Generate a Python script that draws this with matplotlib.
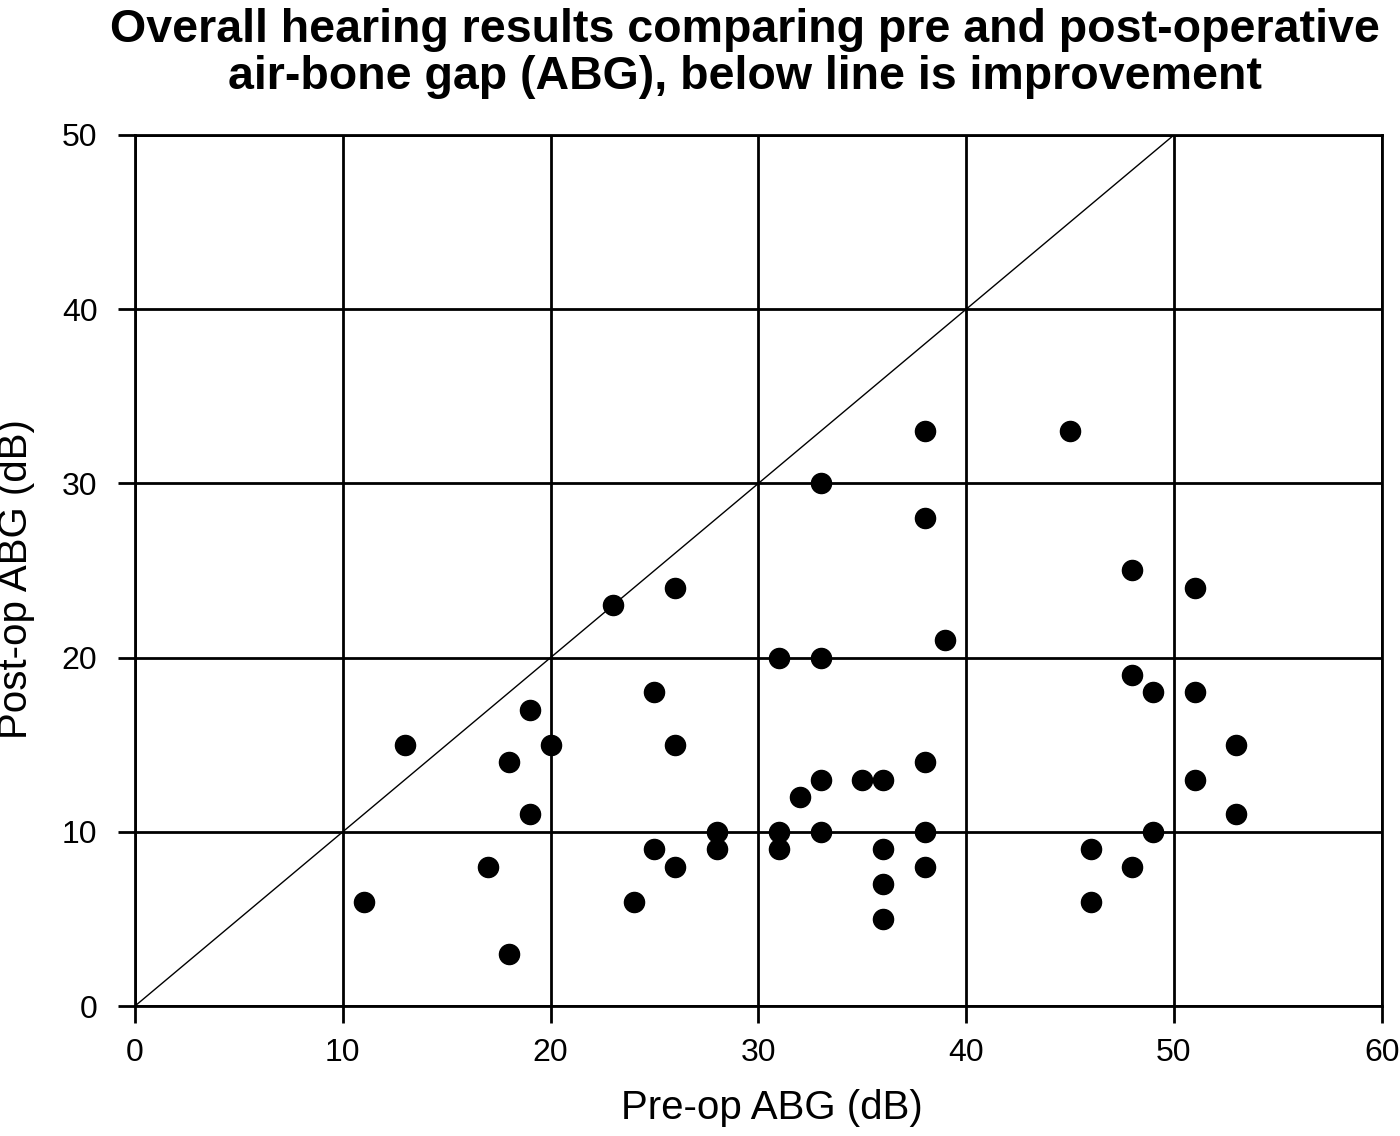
import matplotlib
matplotlib.use("Agg")
import matplotlib.pyplot as plt

plt.rcParams['font.family'] = ['Liberation Sans', 'DejaVu Sans']

# pre-op and post-op air-bone gap, dB
pre_op = [11, 13, 17, 18, 18, 19, 19, 20, 23, 24, 25, 25, 26, 26, 26, 28, 28,
          31, 31, 31, 32, 33, 33, 33, 33, 35, 36, 36, 36, 36,
          38, 38, 38, 38, 38, 39, 45, 46, 46, 48, 48, 48, 49, 49,
          51, 51, 51, 53, 53]
post_op = [6, 15, 8, 14, 3, 17, 11, 15, 23, 6, 18, 9, 24, 15, 8, 10, 9,
           20, 10, 9, 12, 30, 20, 13, 10, 13, 13, 9, 7, 5,
           33, 28, 14, 10, 8, 21, 33, 9, 6, 25, 19, 8, 18, 10,
           24, 18, 13, 15, 11]

x_ticks = [0, 10, 20, 30, 40, 50, 60]
y_ticks = [0, 10, 20, 30, 40, 50]
line_x = [0, 50]
line_y = [0, 50]

fig = plt.figure(figsize=(14, 11.36), dpi=100)
ax = fig.add_axes([0.0964, 0.1144, 0.8906, 0.7668])

# line of no change
ax.plot(line_x, line_y, color='black', linewidth=1.0, zorder=2)
ax.scatter(pre_op, post_op, s=210, color='black', marker='o', zorder=3)

ax.set_xlim(0, 60)
ax.set_ylim(0, 50)
ax.set_xticks(x_ticks)
ax.set_yticks(y_ticks)
ax.grid(True, color='black', linewidth=2)
ax.set_axisbelow(True)
for sp in ax.spines.values():
    sp.set_linewidth(2)
ax.tick_params(direction='out', length=12, width=2, labelsize=23)
ax.tick_params(axis='x', pad=11)
ax.tick_params(axis='y', pad=15)

ax.set_xlabel('Pre-op ABG (dB)', fontsize=29)
ax.set_ylabel('Post-op ABG (dB)', fontsize=29)
ax.xaxis.set_label_coords(0.511, -0.095)
ax.yaxis.set_label_coords(-0.080, 0.49)

fig.text(0.532, 0.993,
         'Overall hearing results comparing pre and post-operative\n'
         'air-bone gap (ABG), below line is improvement',
         fontsize=33.5, fontweight='bold', ha='center', va='top',
         linespacing=1.1)

fig.savefig('out.png', dpi=100, facecolor='white')
